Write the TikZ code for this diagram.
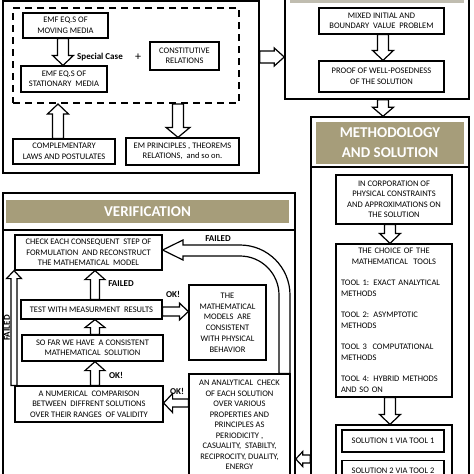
\documentclass[tikz,border=0pt]{standalone}
\usepackage{fontspec}
\setmainfont{Carlito}
\usetikzlibrary{calc}
\definecolor{bandtan}{RGB}{166,157,122}
\definecolor{bandgray}{RGB}{192,189,176}
\newcommand\blockarrow[3][]{%
  \path let \p1=(#2), \p2=(#3) in \pgfextra{%
    \pgfmathsetmacro\baang{atan2(\y2-\y1,\x2-\x1)}%
    \pgfmathsetmacro\balen{veclen(\x2-\x1,\y2-\y1)}%
    \xdef\baang{\baang}\xdef\balen{\balen}%
    \xdef\bax{\x1}\xdef\bay{\y1}};
  \begin{scope}[shift={(\bax,\bay)}, rotate=\baang]
    \def\baSW{5.5}\def\baHW{10.5}\def\baHL{10}#1%
    \draw[blockarr] (0pt,{-\baSW pt}) -- ({\balen pt-\baHL pt},{-\baSW pt}) -- ({\balen pt-\baHL pt},{-\baHW pt}) -- ({\balen pt},0pt) -- ({\balen pt-\baHL pt},{\baHW pt}) -- ({\balen pt-\baHL pt},{\baSW pt}) -- (0pt,{\baSW pt}) -- cycle;
  \end{scope}}
\tikzset{
  box/.style={draw, line width=1.2pt, align=center, inner sep=1pt, fill=white,
    font=\fontsize{8.5}{10.5}\selectfont},
  txt/.style={align=center, inner sep=0pt, font=\fontsize{8.5}{10.5}\selectfont},
  outerbox/.style={draw, line width=1.5pt, inner sep=0pt},
  dashbox/.style={draw, line width=2pt, dash pattern=on 7pt off 5pt, inner sep=0pt},
  band/.style={fill=bandtan, draw=none, text=white, inner sep=0pt, align=center,
    font=\fontsize{15}{20}\selectfont\bfseries},
  blockarr/.style={draw, fill=white, line width=1.2pt, line join=miter},
  lbl/.style={inner sep=0pt, font=\fontsize{9}{10}\selectfont\bfseries},
}
\begin{document}
\begin{tikzpicture}[x=1pt, y=-1pt]
\useasboundingbox (0,0) rectangle (474,474);
\clip (0,0) rectangle (474,474);

% ---------- top left section ----------
\node[outerbox, minimum width=256pt, minimum height=172pt] (topleft) at (131,87) {};
\node[dashbox, minimum width=226pt, minimum height=95pt] (dashedbox) at (126,55.5) {};
\node[box, minimum width=85pt, minimum height=25pt] (moving) at (65.5,25.5) {EMF EQ.S OF\\MOVING MEDIA};
\node[box, minimum width=86pt, minimum height=26pt] (stationary) at (64,79) {EMF EQ.S OF\\STATIONARY\ \ MEDIA};
\node[box, minimum width=69pt, minimum height=28pt] (constitutive) at (184.5,56) {CONSTITUTIVE\\RELATIONS};
\node[lbl] (special) at (100,57) {Special Case};
\node[inner sep=0pt, font=\fontsize{12}{12}\selectfont] (plus) at (138,57) {+};
\node[box, minimum width=102pt, minimum height=25pt] (compl) at (64,151.5) {COMPLEMENTARY\\LAWS AND POSTULATES};
\node[box, minimum width=113pt, minimum height=27pt] (emp) at (182.5,151.5) {EM PRINCIPLES , THEOREMS\\RELATIONS,\ \ and so on.};

% ---------- top right section ----------
\node[outerbox, minimum width=184pt, minimum height=119pt] (topright) at (377,39.5) {};
\node[fill=bandgray, inner sep=0pt, minimum width=174pt, minimum height=23pt] (toprightband) at (377,-8.5) {};
\node[box, minimum width=125pt, minimum height=26pt] (mixed) at (381.5,21) {MIXED INITIAL AND\\BOUNDARY\ \ VALUE\ \ PROBLEM};
\node[box, minimum width=125pt, minimum height=31pt] (proof) at (381.5,76.5) {PROOF OF WELL-POSEDNESS\\OF THE SOLUTION};

% ---------- methodology ----------
\node[outerbox, minimum width=158pt, minimum height=383pt] (method) at (390,308.5) {};
\node[band, minimum width=148pt, minimum height=42pt] (methodband) at (390,143) {METHODOLOGY\\AND SOLUTION};
\coordinate (mline) at (0,167);
\draw[line width=1.5pt] (method.west |- mline) -- (method.east |- mline);
\node[box, minimum width=116pt, minimum height=49pt] (incorp) at (394,199.5) {IN CORPORATION OF\\PHYSICAL CONSTRAINTS\\AND APPROXIMATIONS ON\\THE SOLUTION};
\node[box, minimum width=116pt, minimum height=153pt, align=left, text width=106pt] (choice) at (394,320.5)
  {\makebox[106pt]{THE CHOICE OF THE}\\\makebox[106pt]{MATHEMATICAL\ \ TOOLS}\\[11pt]
   TOOL 1: EXACT ANALYTICAL\\METHODS\\[11pt]
   TOOL 2: ASYMPTOTIC\\METHODS\\[11pt]
   TOOL 3\ \ COMPUTATIONAL\\METHODS\\[11pt]
   TOOL 4: HYBRID METHODS\\AND SO ON};
\node[box, minimum width=116pt, minimum height=75pt] (solbox) at (394,462.5) {};
\node[box, minimum width=102pt, minimum height=22pt] (sol1) at (393,441) {SOLUTION 1 VIA TOOL 1};
\node[box, minimum width=102pt, minimum height=20pt] (sol2) at (393,470.5) {SOLUTION 2 VIA TOOL 2};

% ---------- verification ----------
\node[outerbox, minimum width=292pt, minimum height=307pt] (verif) at (149,346.5) {};
\node[band, minimum width=283pt, minimum height=23pt] (verifband) at (147.5,211.5) {VERIFICATION};
\coordinate (vline) at (0,230);
\draw[line width=1.5pt] (verif.west |- vline) -- (verif.east |- vline);
\node[box, minimum width=147pt, minimum height=35pt] (check) at (88.5,252.5) {CHECK EACH CONSEQUENT\ \ STEP OF\\FORMULATION\ \ AND RECONSTRUCT\\THE MATHEMATICAL\ \ MODEL};
\node[box, minimum width=141pt, minimum height=19pt] (test) at (91.5,309.5) {TEST WITH MEASURMENT\ \ RESULTS};
\node[box, minimum width=141pt, minimum height=26pt] (sofar) at (92.5,348) {SO FAR WE HAVE\ \ A CONSISTENT\\MATHEMATICAL\ \ SOLUTION};
\node[box, minimum width=148pt, minimum height=36pt] (numerical) at (89,404) {A NUMERICAL\ \ COMPARISON\\BETWEEN\ \ DIFFRENT SOLUTIONS\\OVER THEIR RANGES\ \ OF VALIDITY};
\node[box, minimum width=77pt, minimum height=75pt, font=\fontsize{8.5}{10.8}\selectfont] (models) at (227.5,322.5) {THE\\MATHEMATICAL\\MODELS\ \ ARE\\CONSISTENT\\WITH PHYSICAL\\BEHAVIOR};
\node[box, minimum width=101pt, minimum height=126pt] (analytical) at (239.5,437) {};
\node[txt] (analyticaltxt) at (239.5,425) {AN ANALYTICAL\ \ CHECK\\OF EACH SOLUTION\\OVER VARIOUS\\PROPERTIES AND\\PRINCIPLES AS\\PERIODICITY ,\\CASUALITY,\ \ STABILTY,\\RECIPROCITY, DUALITY,\\ENERGY};

% ---------- block arrows ----------
\coordinate (a1) at ($(moving.south)+(-2.5,0)$);
\blockarrow{a1}{a1 |- stationary.north}
\coordinate (a2) at ($(compl.north)+(-6,0)$);
\blockarrow{a2}{a2 |- dashedbox.south}
\coordinate (a3) at ($(emp.north)+(-4.5,0)$);
\blockarrow[\def\baHW{12}]{a3 |- dashedbox.south}{a3}
\coordinate (r1) at (0,57);
\blockarrow[\def\baSW{6}\def\baHW{9}]{topleft.east |- r1}{topright.west |- r1}
\coordinate (a5) at ($(mixed.south)+(1.5,0)$);
\blockarrow{a5}{a5 |- proof.north}
\blockarrow[\def\baHL{9}]{a5 |- topright.south}{a5 |- method.north}
\coordinate (a7) at ($(incorp.south)+(-4,0)$);
\blockarrow{a7}{a7 |- choice.north}
\coordinate (a8) at ($(choice.south)+(-4,0)$);
\blockarrow{a8}{a8 |- solbox.north}
\coordinate (r9) at (0,459);
\blockarrow[\def\baSW{4}\def\baHW{7.5}\def\baHL{7}]{method.west |- r9}{verif.east |- r9}
\coordinate (a10) at ($(test.north)+(3.5,0)$);
\blockarrow[\def\baSW{4.5}\def\baHW{10}\def\baHL{9}]{a10}{a10 |- check.south}
\coordinate (r11) at (0,311.5);
\blockarrow[\def\baSW{4.5}\def\baHW{8.5}\def\baHL{9}]{test.east |- r11}{models.west |- r11}
\coordinate (a12) at ($(sofar.north)+(2.5,0)$);
\blockarrow[\def\baSW{4.5}\def\baHW{10}\def\baHL{8}]{a12 |- sofar.north}{a12 |- test.south}
\blockarrow[\def\baSW{4.5}\def\baHW{10}\def\baHL{9}]{a12 |- numerical.north}{a12 |- sofar.south}
\coordinate (r14) at (0,403);
\blockarrow[\def\baSW{4}\def\baHW{9.5}\def\baHL{9}]{analytical.west |- r14}{numerical.east |- r14}
\coordinate (a15) at (14,0);
\blockarrow[\def\baSW{3}\def\baHW{7.5}\def\baHL{8}]{a15 |- numerical.north}{a15 |- check.south}

% U-shaped arrow from the analytical check back to the first box
\coordinate (uin) at (279,0);
\coordinate (uout) at (290,0);
\coordinate (utip) at (0,250);
\draw[blockarr] (uin |- analytical.north) -- (279,295)
  .. controls (279,273.5) and (261.5,256) .. (240,256) -- (183,256) -- (183,260)
  -- (check.east |- utip) -- (183,240) -- (183,245) -- (240,245)
  .. controls (267.6,245) and (290,267.4) .. (290,295) -- (uout |- analytical.north) -- cycle;

% ---------- labels ----------
\node[lbl] (failedtop) at (218,239) {FAILED};
\node[lbl] (failedmid) at (121,284) {FAILED};
\node[lbl] (ok1) at (173,294) {OK!};
\node[lbl] (ok2) at (116,375) {OK!};
\node[lbl] (ok3) at (177,391) {OK!};
\node[lbl, rotate=90] (failedleft) at (7,328) {FAILED};
\end{tikzpicture}
\end{document}
